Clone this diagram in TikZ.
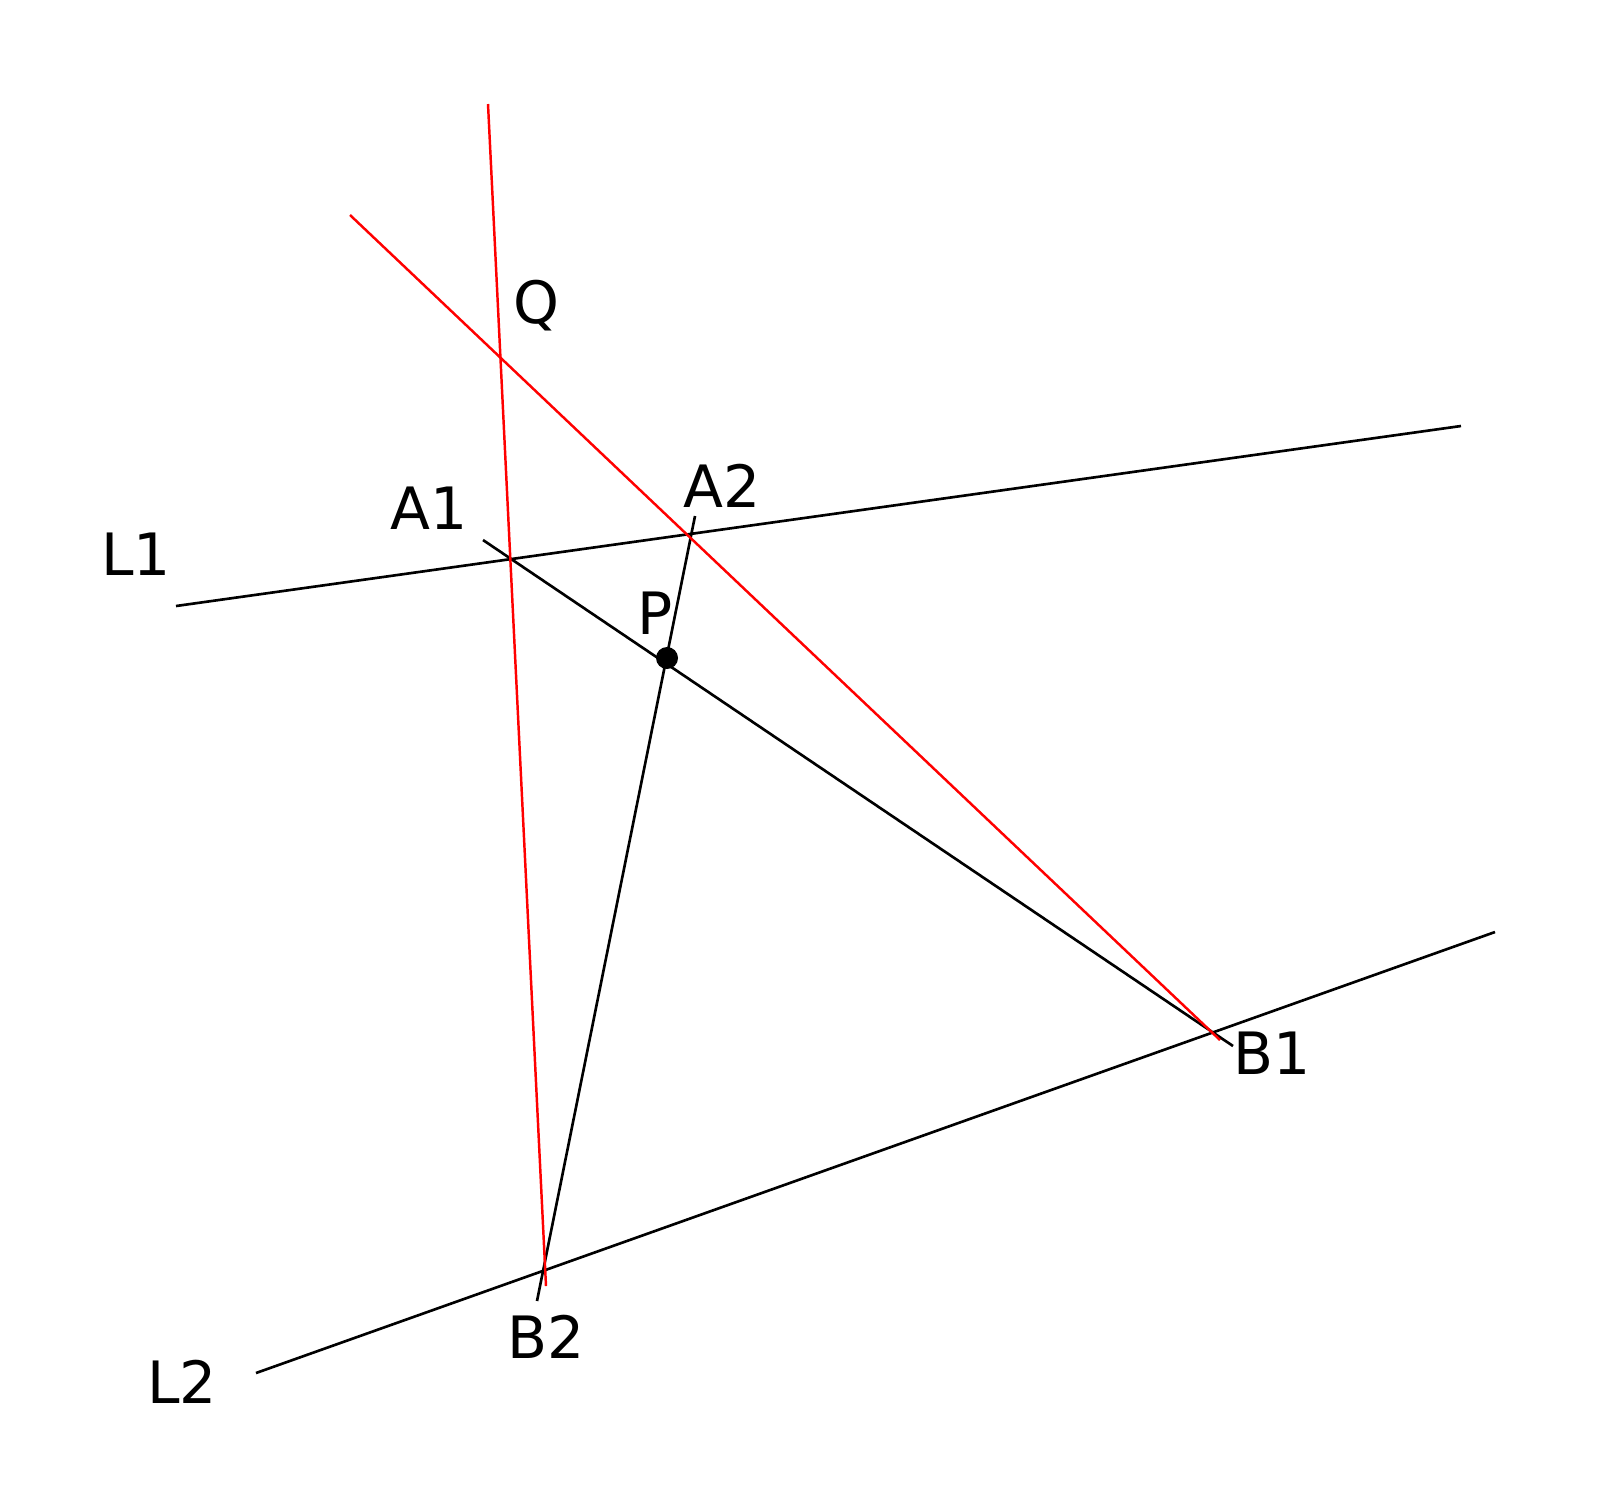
\documentclass[tikz,border=0pt]{standalone}
\usepackage{fontspec}
\setmainfont{DejaVu Sans}
\begin{document}
\begin{tikzpicture}[line join=round,x=0.01cm,y=-0.01cm,
	lbl/.style={font=\fontsize{16.6}{20}\selectfont,inner sep=0pt}]
	\useasboundingbox (0,0) rectangle (1600,1505);
	% the two lines
	\coordinate (L1a) at (176,606); \coordinate (L1b) at (1461,426);
	\coordinate (L2a) at (256,1373); \coordinate (L2b) at (1495,932);
	\draw[line width=0.75pt] (L1a)--(L1b);
	\draw[line width=0.75pt] (L2a)--(L2b);
	% segments through P
	\coordinate (A1e) at (483,540); \coordinate (B1e) at (1233,1046);
	\coordinate (A2e) at (695,516); \coordinate (B2e) at (537,1301);
	\draw[line width=0.75pt] (A1e)--(B1e);
	\draw[line width=0.75pt] (A2e)--(B2e);
	% red lines meeting at Q
	\coordinate (R1a) at (488,104); \coordinate (R1b) at (546,1286);
	\coordinate (R2a) at (350,215); \coordinate (R2b) at (1220,1040);
	\draw[red,line width=0.7pt] (R1a)--(R1b);
	\draw[red,line width=0.7pt] (R2a)--(R2b);
	\fill (667,658) circle (11);
	\node[lbl] (Q) at (536,306) {Q};
	\node[lbl] (A1) at (429,508) {A1};
	\node[lbl] (A2) at (722,486) {A2};
	\node[lbl] (L1) at (136,554) {L1};
	\node[lbl] (P) at (655,613) {P};
	\node[lbl] (B1) at (1272,1053) {B1};
	\node[lbl] (B2) at (546,1337) {B2};
	\node[lbl] (L2) at (182,1382) {L2};
\end{tikzpicture}
\end{document}
